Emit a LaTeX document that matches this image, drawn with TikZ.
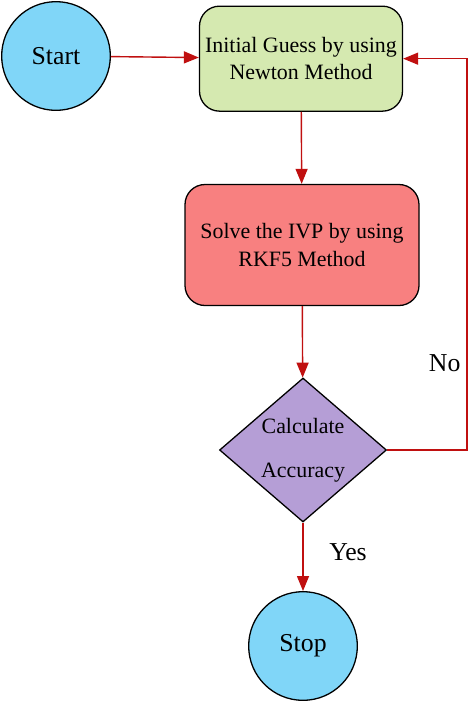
\documentclass[tikz,border=0pt]{standalone}
\usepackage{fontspec}
\setmainfont{Liberation Serif}
\usetikzlibrary{shapes.geometric,arrows.meta}

\definecolor{termblue}{RGB}{128,214,248}
\definecolor{guessgreen}{RGB}{213,233,176}
\definecolor{solvered}{RGB}{248,128,128}
\definecolor{checkpurple}{RGB}{181,158,214}
\definecolor{flowred}{RGB}{192,16,16}

\begin{document}
\begin{tikzpicture}[
    every node/.style={font=\fontsize{18.7}{23.5}\selectfont},
    bigtext/.style={font=\fontsize{22}{26}\selectfont},
    terminal/.style={circle, draw=black, line width=1.1pt, fill=termblue,
        minimum size=3.26cm, inner sep=0pt, bigtext},
    process/.style={rectangle, rounded corners=0.6cm, draw=black, line width=1.1pt,
        align=center, inner sep=0pt},
    decision/.style={diamond, draw=black, line width=1.1pt, fill=checkpurple,
        aspect=1.16, minimum width=5.01cm, minimum height=4.32cm, inner sep=0pt, align=center},
    flow/.style={draw=flowred, line width=1.2pt, -{Triangle[length=0.45cm,width=0.36cm]}}
]
    \useasboundingbox (0,0) rectangle (14.22,-21.12);

    % terminals and boxes
    \node[terminal] (start) at (1.68,-1.68) {Start};
    \node[process, fill=guessgreen, minimum width=6.09cm, minimum height=3.15cm]
        (guess) at (9.03,-1.76) {Initial Guess by using\\Newton Method};
    \node[process, fill=solvered, minimum width=7.02cm, minimum height=3.63cm]
        (solve) at (9.06,-7.35) {Solve the IVP by using\\RKF5 Method};
    \node[decision] (check) at (9.09,-13.5) {Calculate\\[14pt]Accuracy};
    \node[terminal] (stop) at (9.09,-19.38) {Stop};

    % connectors
    \coordinate (back) at (14.01,-1.76);
    \draw[flow] (start) -- (guess);
    \draw[flow] (guess) -- (solve);
    \draw[flow] (solve) -- (check);
    \draw[flow] (check) -- (stop);
    \draw[flow] (check.east) -| (back) -- (guess.east);

    % labels
    \node[bigtext] (no) at (13.34,-10.89) {No};
    \node[bigtext] (yes) at (10.44,-16.56) {Yes};
\end{tikzpicture}
\end{document}
